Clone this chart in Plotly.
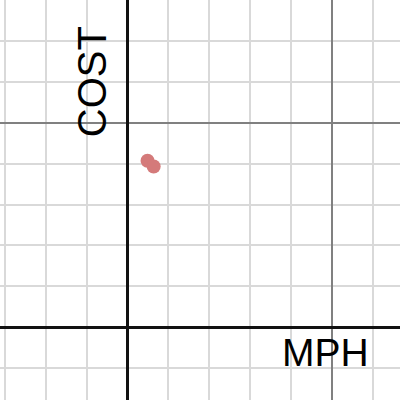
import plotly.graph_objects as go

# data (grid units)
mph = [0.49, 0.64]
cost = [4.07, 3.93]

x_range = [-3.117, 6.663]
y_range = [-1.778, 8.002]

fig = go.Figure()

fig.add_trace(go.Scatter(x=mph, y=cost, mode="markers",
                         marker=dict(size=14, color="rgb(212,122,122)", line=dict(width=0)),
                         hoverinfo="skip"))

axis_style = dict(
    dtick=5, tick0=0,
    showgrid=True, gridcolor="#808080", gridwidth=2,
    minor=dict(dtick=1, showgrid=True, gridcolor="#d9d9d9", gridwidth=2),
    zeroline=True, zerolinecolor="#111111", zerolinewidth=3,
    showticklabels=False, ticks="", showline=False, fixedrange=True,
)

fig.update_layout(
    width=400, height=400,
    margin=dict(l=0, r=0, t=0, b=0),
    paper_bgcolor="white", plot_bgcolor="white",
    showlegend=False,
    xaxis=dict(range=x_range, **axis_style),
    yaxis=dict(range=y_range, **axis_style),
    font=dict(family="Liberation Sans, Arial, sans-serif", color="black"),
)

fig.add_annotation(text="MPH", x=4.83, y=-0.62, xref="x", yref="y",
                   showarrow=False, font=dict(size=39), xanchor="center", yanchor="middle")
fig.add_annotation(text="COST", x=-0.86, y=6.0, xref="x", yref="y", textangle=-90,
                   showarrow=False, font=dict(size=40), xanchor="center", yanchor="middle")

# drop the page's default body margin so the chart sits at the window corner
fig.write_html("out.html", config={"displayModeBar": False},
               post_script="document.body.style.margin='0';")
